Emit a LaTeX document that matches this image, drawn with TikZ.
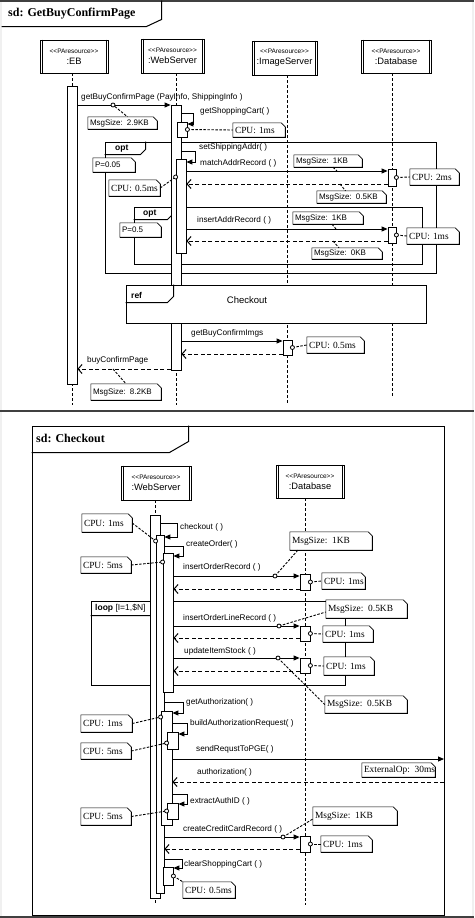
\documentclass[tikz,border=0pt]{standalone}
\usepackage{fontspec}
\setmainfont{Liberation Serif}
\setsansfont{Liberation Sans}
\usetikzlibrary{arrows.meta}
\tikzset{>/.tip={Triangle[length=6pt,width=5pt]}}
\tikzset{
  panel/.style={line width=2pt, black!75},
  lifeline/.style={line width=1pt, dash pattern=on 3pt off 2pt},
  actbar/.style={draw, fill=white, line width=.8pt, inner sep=0pt},
  hdrbox/.style={draw, fill=white, line width=.9pt, inner sep=0pt, align=center, font=\sffamily\fontsize{9.3}{10}\selectfont},
  call/.style={line width=.9pt, ->},
  reply/.style={line width=1pt, dash pattern=on 4pt off 2.5pt, -{Straight Barb[length=4pt,width=9pt,line width=1pt]}},
  msglbl/.style={anchor=west, inner sep=0pt, font=\sffamily\fontsize{8.2}{9}\selectfont},
  memo/.style={fill=white, inner xsep=2pt, inner ysep=0pt, align=left, font=\fontsize{9.4}{10}\selectfont},
  smemo/.style={memo, font=\sffamily\fontsize{8}{9}\selectfont},
  memoedge/.style={line width=.6pt},
  memoshade/.style={line width=1.3pt},
  tie/.style={line width=.9pt, dash pattern=on 2.5pt off 1.5pt},
  dot/.style={circle, draw, fill=white, line width=.8pt, inner sep=0pt, minimum size=4pt},
  fragment/.style={draw, line width=1pt, inner sep=0pt},
  fraglbl/.style={anchor=west, inner sep=0pt, font=\sffamily\bfseries\fontsize{8.5}{9}\selectfont},
  sdlbl/.style={anchor=west, inner sep=0pt, font=\bfseries\fontsize{12}{13}\selectfont},
}
\newcommand{\pares}{{\fontsize{6.5}{7}\selectfont<\kern0pt<PAresource>\kern0pt>}}
\newcommand{\hdr}[6]{%
  \node[hdrbox, minimum width={(#4-#2)*1pt}, minimum height={(#5-#3)*1pt}] (#1) at ({(#2+#4)/2},{(#3+#5)/2}) {\pares\\[1pt]#6};
  \draw[line width=.9pt] ([xshift=2.5pt]#1.north west) -- ([xshift=2.5pt]#1.south west)
    ([xshift=-2.5pt]#1.north east) -- ([xshift=-2.5pt]#1.south east);}
\newcommand{\actbar}[5]{%
  \node[actbar, minimum width={(#4-#2)*1pt}, minimum height={(#5-#3)*1pt}] (#1) at ({(#2+#4)/2},{(#3+#5)/2}) {};}
\newcommand{\frag}[6][]{%
  \node[fragment, #1, minimum width={(#5-#3)*1pt}, minimum height={(#6-#4)*1pt}] (#2) at ({(#3+#5)/2},{(#4+#6)/2}) {};}
\newcommand{\fragtab}[5]{%
  \draw[line width=1pt] ([yshift=-#3pt]#1.north west) -- ++(#2-#4,0) -- ++(#4,-#5) -- ([xshift=#2pt]#1.north west);}
\newcommand{\memo}[7][memo]{%
  \pgfmathsetlengthmacro\memowd{(#5-#3-4)*1pt}%
  \node[#1, text width=\memowd, minimum height={(#6-#4)*1pt}] (#2) at ({(#3+#5)/2},{(#4+#6)/2}) {\mbox{#7}};
  \draw[memoedge] (#2.south west) -- (#2.north west) -- ([xshift=-4pt]#2.north east)
    -- ([yshift=-4pt]#2.north east) -- (#2.south east) -- cycle;
  \draw[memoshade] ([yshift=-4pt]#2.north east) -- (#2.south east) -- (#2.south west);}

\begin{document}
\begin{tikzpicture}[x=1pt, y=-1pt]
\useasboundingbox (0,0) rectangle (474,918);
\fill[gray!12] (0,0) rectangle (474,918);
\fill[white] (2,2) rectangle (472,916);
\draw[panel] (0,1) -- (474,1) (0,411) -- (474,411) (0,917) -- (474,917);

% GetBuyConfirmPage
\frag[draw=none]{gbcp}{2}{1}{472}{410}
\fragtab{gbcp}{160}{26}{15}{7}
\node[sdlbl] (gbcp-l) at (8,14) {sd: GetBuyConfirmPage};
\hdr{eb}{40}{40}{108}{73}{:EB}
\hdr{ws}{141}{39}{204}{73}{:WebServer}
\hdr{is}{252}{41}{317}{75}{:ImageServer}
\hdr{db}{361}{40}{431}{73}{:Database}
\frag{opt1}{105}{142}{436}{273}
\fragtab{opt1}{41}{13}{5}{5}
\node[fraglbl] (opt1-l) at (115,148.5) {opt};
\frag{opt2}{134}{207}{422}{264}
\fragtab{opt2}{39}{13}{5}{5}
\node[fraglbl] (opt2-l) at (143,213.5) {opt};
\coordinate (eb-end) at (72,405);
\coordinate (ws-end) at (176,405);
\coordinate (is-end) at (287.5,405);
\coordinate (db-end) at (392,398);
\draw[lifeline] (eb.south -| eb-end) -- (eb-end);
\draw[lifeline] (ws.south -| ws-end) -- (ws-end);
\draw[lifeline] (is.south -| is-end) -- (is-end);
\draw[lifeline] (db.south -| db-end) -- (db-end);
\actbar{e1}{67}{86}{77}{384}
\actbar{w1}{171}{105}{181}{370}
\actbar{w2}{177}{122}{187}{137}
\actbar{w3}{176}{159}{186}{253}
\actbar{d1}{388}{169}{396}{186}
\actbar{d2}{388}{227}{396}{243}
\actbar{i1}{283}{340}{292}{355}
\frag[fill=white]{ref}{126}{285}{426}{323}
\fragtab{ref}{48}{18}{6}{6}
\node[fraglbl] (ref-l) at (131,295) {ref};
\node[font=\sffamily\fontsize{9.5}{10}\selectfont, inner sep=0pt] (ref-c) at (247,300) {Checkout};

\draw[call] (e1.east |- 0,105) to (w1.west |- 0,105);
\node[msglbl] (l-gbcp) at (81,97) {getBuyConfirmPage (PayInfo, ShippingInfo )};
\draw[call] (w1.east |- 0,113) -- ++(12,0) |- (w2.east |- 0,124);
\node[msglbl] (l-gsc) at (200,111) {getShoppingCart( )};
\draw[call] (w1.east |- 0,151) -- ++(14,0) |- (w3.east |- 0,162);
\node[msglbl] (l-ssa) at (199,147) {setShippingAddr( )};
\draw[call] (w3.east |- 0,171) to (d1.west |- 0,171);
\node[msglbl] (l-mar) at (200,163) {matchAddrRecord ( )};
\draw[reply] (d1.west |- 0,184) to (w3.east |- 0,184);
\draw[call] (w3.east |- 0,229) to (d2.west |- 0,229);
\node[msglbl] (l-iar) at (197,220) {insertAddrRecord ( )};
\draw[reply] (d2.west |- 0,241) to (w3.east |- 0,241);
\draw[call] (w1.east |- 0,341) to (i1.west |- 0,341);
\node[msglbl] (l-gbci) at (191,333) {getBuyConfirmImgs};
\draw[reply] (i1.west |- 0,354) to (w1.east |- 0,354);
\draw[reply] (w1.west |- 0,369) to (e1.east |- 0,369);
\node[msglbl] (l-bcp) at (87,360) {buyConfirmPage};

\memo[smemo]{n1}{88}{117}{157}{129}{MsgSize: 2.9KB}
\memo{n2}{233}{123}{285}{137}{CPU: 1ms}
\memo[smemo]{n3}{93}{158}{135}{172}{P=0.05}
\memo[smemo]{n4}{294}{155}{362}{167}{MsgSize: 1KB}
\memo{n5}{410}{169}{459}{185}{CPU: 2ms}
\memo[smemo]{n6}{317}{191}{386}{203}{MsgSize: 0.5KB}
\memo{n7}{109}{180}{160}{196}{CPU: 0.5ms}
\memo[smemo]{n8}{120}{223}{161}{237}{P=0.5}
\memo[smemo]{n9}{293}{212}{363}{224}{MsgSize: 1KB}
\memo{n10}{407}{228}{459}{244}{CPU: 1ms}
\memo[smemo]{n11}{312}{248}{382}{259}{MsgSize: 0KB}
\memo{n12}{307}{337}{364}{353}{CPU: 0.5ms}
\memo[smemo]{n13}{91}{384}{161}{400}{MsgSize: 8.2KB}

\coordinate (k4) at (337,171);
\coordinate (k6) at (340,184);
\coordinate (k9) at (336,229);
\coordinate (k11) at (333,241);
\coordinate (k13) at (113,369);
\node[dot] (t1) at (113,105) {};
\draw[tie] (t1) -- ([xshift=5pt]n1.north);
\draw[tie] (w2.east) -- (n2.west);
\draw[tie] ([xshift=5pt]n4.south) -- (k4);
\draw[tie] (d1.east) -- (n5.west);
\draw[tie] (k6) -- ([xshift=-6pt]n6.north);
\draw[tie] (n7.east) -- (w3.west |- 0,177);
\draw[tie] ([xshift=4pt]n9.south) -- (k9);
\draw[tie] (d2.east) -- (n10.west);
\draw[tie] (k11) -- ([xshift=-8pt]n11.north);
\draw[tie] (i1.east) -- (n12.west);
\draw[tie] (k13) -- (n13.north);
\node[dot] (t2) at (w2.east) {};
\node[dot] (t5) at (d1.east) {};
\node[dot] (t7) at (w3.west |- 0,177) {};
\node[dot] (t10) at (d2.east) {};
\node[dot] (t12) at (i1.east) {};

% Checkout
\frag{chk}{32}{426}{444}{915}
\fragtab{chk}{157}{27}{19}{11}
\node[sdlbl] (chk-l) at (36,438) {sd: Checkout};
\hdr{ws2}{121}{466}{191}{500}{:WebServer}
\hdr{db2}{276}{465}{344}{498}{:Database}
\frag{loop}{91}{601}{345}{685}
\fragtab{loop}{75}{15}{9}{4}
\node[fraglbl] (loop-l) at (95,608.5) {loop \mdseries[I=1,\$N]};
\coordinate (ws2-end) at (155,905);
\coordinate (db2-end) at (305,905);
\draw[lifeline] (ws2.south -| ws2-end) -- (ws2-end);
\draw[lifeline] (db2.south -| db2-end) -- (db2-end);
\actbar{b1}{150}{515}{160}{898}
\actbar{b2}{156}{535}{164}{893}
\actbar{b3}{163}{553}{173}{692}
\actbar{b4}{161}{711}{172}{825}
\actbar{b5}{167}{732}{178}{749}
\actbar{b6}{167}{803}{178}{819}
\actbar{b7}{163}{867}{173}{885}
\actbar{q1}{300}{574}{310}{590}
\actbar{q2}{300}{626}{310}{641}
\actbar{q3}{300}{658}{310}{673}
\actbar{q4}{300}{836}{310}{852}
\coordinate (pge-out) at (444,759);
\coordinate (pge-in) at (444,782);

\draw[call] (b1.east |- 0,523) -- ++(17,0) |- (b2.east |- 0,537);
\node[msglbl] (l-co) at (180,527) {checkout ( )};
\draw[call] (b2.east |- 0,546) -- ++(19,0) |- (b3.east |- 0,556);
\node[msglbl] (l-cro) at (186,544) {createOrder( )};
\draw[call] (b3.east |- 0,576) to (q1.west |- 0,576);
\node[msglbl] (l-ior) at (183,567) {insertOrderRecord ( )};
\draw[reply] (q1.west |- 0,589) to (b3.east |- 0,589);
\draw[call] (b3.east |- 0,626) to (q2.west |- 0,626);
\node[msglbl] (l-iolr) at (183,618) {insertOrderLineRecord ( )};
\draw[reply] (q2.west |- 0,638) to (b3.east |- 0,638);
\draw[call] (b3.east |- 0,658) to (q3.west |- 0,658);
\node[msglbl] (l-uis) at (184,651) {updateItemStock ( )};
\draw[reply] (q3.west |- 0,671) to (b3.east |- 0,671);
\draw[call] (b2.east |- 0,702) -- ++(19,0) |- (b4.east |- 0,713);
\node[msglbl] (l-ga) at (186,702) {getAuthorization( )};
\draw[call] (b4.east |- 0,723) -- ++(15,0) |- (b5.east |- 0,734);
\node[msglbl] (l-bar) at (190,723) {buildAuthorizationRequest( )};
\draw[call] (b4.east |- 0,759) to (pge-out);
\node[msglbl] (l-srp) at (196,749) {sendRequstToPGE( )};
\draw[reply] (pge-in) to (b4.east |- 0,782);
\node[msglbl] (l-auth) at (197,772) {authorization( )};
\draw[call] (b4.east |- 0,794) -- ++(15,0) |- (b6.east |- 0,804);
\node[msglbl] (l-eai) at (190,801) {extractAuthID ( )};
\draw[call] (b2.east |- 0,837) to (q4.west |- 0,837);
\node[msglbl] (l-ccr) at (183,829) {createCreditCardRecord ( )};
\draw[reply] (q4.west |- 0,849) to (b2.east |- 0,849);
\draw[call] (b2.east |- 0,859) -- ++(18,0) |- (b7.east |- 0,868);
\node[msglbl] (l-csc) at (184,864) {clearShoppingCart ( )};

\memo{m1}{82}{514}{132}{532}{CPU: 1ms}
\memo{m2}{81}{557}{131}{573}{CPU: 5ms}
\memo{m3}{290}{532}{372}{550}{MsgSize: 1KB}
\memo{m4}{322}{573}{365}{589}{CPU: 1ms}
\memo{m5}{326}{600}{407}{618}{MsgSize: 0.5KB}
\memo{m6}{323}{626}{373}{642}{CPU: 1ms}
\memo{m7}{324}{657}{374}{675}{CPU: 1ms}
\memo{m8}{325}{696}{407}{713}{MsgSize: 0.5KB}
\memo{m9}{81}{715}{132}{732}{CPU: 1ms}
\memo{m10}{81}{743}{131}{759}{CPU: 5ms}
\memo{m11}{362}{763}{435}{777}{ExternalOp: 30ms}
\memo{m12}{81}{808}{131}{825}{CPU: 5ms}
\memo{m13}{313}{807}{397}{825}{MsgSize: 1KB}
\memo{m14}{321}{836}{372}{852}{CPU: 1ms}
\memo{m15}{183}{882}{235}{898}{CPU: 0.5ms}

\draw[tie] (m1.east) -- (b2.west |- 0,541);
\draw[tie] (m2.east) -- (b3.west |- 0,562);
\draw[tie] (275,576) -- ([xshift=8pt]m3.south west);
\draw[tie] (q1.east) -- (m4.west);
\draw[tie] (279,626) -- ([yshift=-3pt]m5.west);
\draw[tie] (q2.east) -- (m6.west);
\draw[tie] (q3.east) -- (m7.west);
\draw[tie] (278,658) -- (m8.west);
\draw[tie] (m9.east) -- (b4.west |- 0,717);
\draw[tie] (m10.east) -- (b5.west |- 0,743);
\draw[tie] (m12.east) -- (b6.west |- 0,811);
\draw[tie] (283,837) -- ([yshift=-3pt]m13.west);
\draw[tie] (q4.east) -- (m14.west);
\draw[tie] (b7.east |- 0,876) -- (m15.north west);
\node[dot] (s1) at (b2.west |- 0,541) {};
\node[dot] (s2) at (b3.west |- 0,562) {};
\node[dot] (s3) at (275,576) {};
\node[dot] (s4) at (q1.east) {};
\node[dot] (s5) at (279,626) {};
\node[dot] (s6) at (q2.east) {};
\node[dot] (s7) at (278,658) {};
\node[dot] (s8) at (q3.east) {};
\node[dot] (s9) at (b4.west |- 0,717) {};
\node[dot] (s10) at (b5.west |- 0,743) {};
\node[dot] (s11) at (b6.west |- 0,811) {};
\node[dot] (s12) at (283,837) {};
\node[dot] (s13) at (q4.east) {};
\node[dot] (s14) at (b7.east |- 0,876) {};
\end{tikzpicture}
\end{document}
